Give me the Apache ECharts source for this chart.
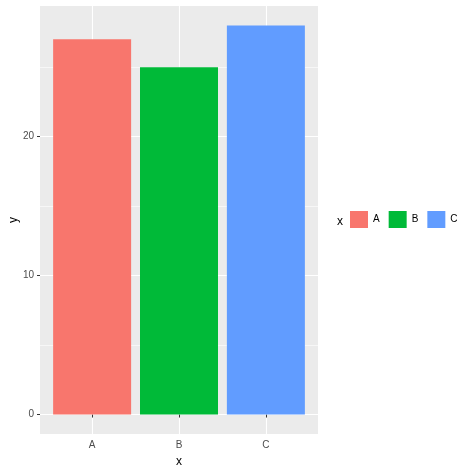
<!DOCTYPE html>
<html>
<head>
<meta charset="utf-8">
<script src="https://cdn.jsdelivr.net/npm/echarts@6/dist/echarts.min.js"></script>
<style>
  html, body { margin: 0; padding: 0; background: #fff; }
  #chart { width: 474px; height: 473px; }
</style>
</head>
<body>
<div id="chart"></div>
<script>
// ====== data ======
const categories = ["A", "B", "C"];
const values = [27, 25, 28];
const colors = ["#F8766D", "#00BA38", "#619CFF"];
const majorTicks = [0, 10, 20];
const minorTicks = [5, 15, 25];
const catPositions = [1, 2, 3];

const textColor = "#4D4D4D";
const font = "Liberation Sans, Arial, sans-serif";

const chart = echarts.init(document.getElementById("chart"));

const series = categories.map((name, i) => ({
  name,
  type: "bar",
  barWidth: 78,
  barGap: "-100%",
  xAxisIndex: 0,
  yAxisIndex: 0,
  itemStyle: { color: colors[i] },
  data: [[catPositions[i], values[i]]],
  z: 3,
}));

chart.setOption({
  animation: false,
  title: {
    text: "x",
    left: 337,
    top: 216,
    padding: 0,
    textStyle: { fontFamily: font, fontSize: 12, fontWeight: "normal", color: "#000" },
  },
  // y axis title (axis name gets pushed to the canvas edge in v6)
  graphic: [
    {
      type: "text",
      x: 14,
      y: 220,
      rotation: Math.PI / 2,
      style: {
        text: "y",
        font: "12px Liberation Sans, Arial, sans-serif",
        fill: "#000",
        align: "center",
        verticalAlign: "middle",
      },
    },
  ],
  legend: {
    left: 350,
    top: 211,
    padding: 0,
    icon: "rect",
    itemWidth: 18,
    itemHeight: 17,
    itemGap: 9,
    data: categories,
    textStyle: { fontFamily: font, fontSize: 10, color: "#000" },
  },
  grid: {
    left: 40,
    top: 6,
    right: 156,
    bottom: 39,
    outerBoundsMode: "none",
    containLabel: false,
    show: true,
    backgroundColor: "#EBEBEB",
    borderWidth: 0,
  },
  xAxis: {
    type: "value",
    min: 0.4,
    max: 3.6,
    name: "x",
    nameLocation: "middle",
    nameGap: 22,
    nameTextStyle: { fontFamily: font, fontSize: 12, color: "#000" },
    axisLine: { show: false },
    axisTick: { show: true, length: 3, customValues: catPositions, lineStyle: { color: "#333", width: 1 } },
    axisLabel: {
      customValues: catPositions,
      margin: 6,
      fontFamily: font,
      fontSize: 10,
      color: textColor,
      formatter: (v) => categories[Math.round(v) - 1] || "",
    },
    splitLine: { show: true, lineStyle: { color: "#fff", width: 1.1 } },
  },
  yAxis: [
    {
      type: "value",
      min: -1.4,
      max: 29.4,
      axisLine: { show: false },
      axisTick: { show: true, length: 3, customValues: majorTicks, lineStyle: { color: "#333", width: 1 } },
      axisLabel: { customValues: majorTicks, margin: 6, fontFamily: font, fontSize: 10, color: textColor },
      splitLine: { show: true, lineStyle: { color: "#fff", width: 1.1 } },
    },
    {
      type: "value",
      min: -1.4,
      max: 29.4,
      position: "left",
      axisLine: { show: false },
      axisTick: { show: false, customValues: minorTicks },
      axisLabel: { show: false, customValues: minorTicks },
      splitLine: { show: true, lineStyle: { color: "#fff", width: 0.6 } },
    },
  ],
  series,
});
</script>
</body>
</html>
